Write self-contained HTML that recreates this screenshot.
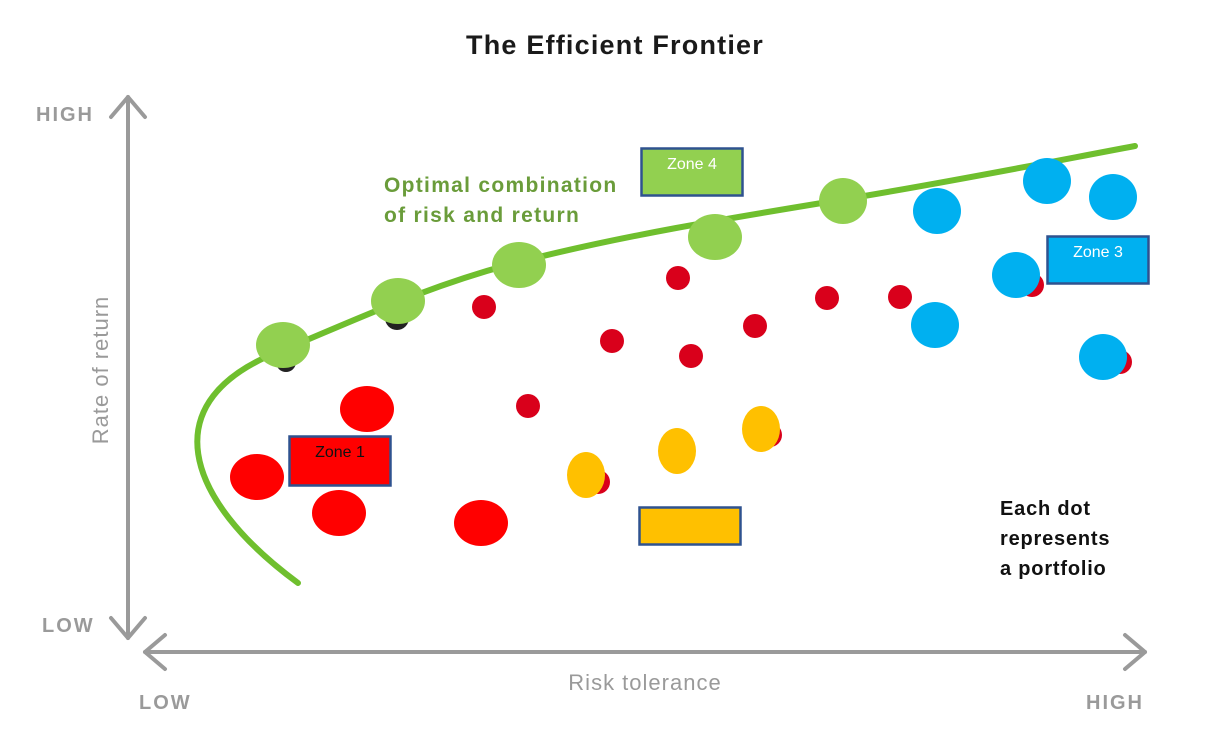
<!DOCTYPE html>
<html><head><style>
html,body{margin:0;padding:0;background:#fff;}
svg{display:block;}
text{font-family:"Liberation Sans",sans-serif;}
</style></head><body>
<svg width="1210" height="750" viewBox="0 0 1210 750" xmlns="http://www.w3.org/2000/svg">
<rect width="1210" height="750" fill="#fff"/>
<text x="615" y="54" text-anchor="middle" font-size="27" font-weight="bold" fill="#1a1a1a" letter-spacing="1.2">The Efficient Frontier</text>
<!-- axes -->
<g stroke="#9a9a9a" stroke-width="4" fill="none" stroke-linecap="round" stroke-linejoin="round">
<line x1="128" y1="97" x2="128" y2="638"/>
<polyline points="111,117 128,97 145,117"/>
<polyline points="111,618 128,638 145,618"/>
<line x1="145" y1="652" x2="1145" y2="652"/>
<polyline points="165,635 145,652 165,669"/>
<polyline points="1125,635 1145,652 1125,669"/>
</g>
<g fill="#9a9a9a" font-weight="bold" font-size="20" letter-spacing="2">
<text x="36" y="121">HIGH</text>
<text x="42" y="632">LOW</text>
<text x="139" y="709">LOW</text>
<text x="1086" y="709">HIGH</text>
</g>
<g fill="#9a9a9a" font-size="22" letter-spacing="1">
<text x="645" y="690" text-anchor="middle">Risk tolerance</text>
<text transform="translate(108,370) rotate(-90)" text-anchor="middle">Rate of return</text>
</g>
<!-- frontier -->
<path d="M298,583 C185,500 150,400 283,350 C360,318 430,285 519,262 C620,236 730,218 840,200 C950,182 1050,162 1135,146" stroke="#6fbf2e" stroke-width="6" fill="none" stroke-linecap="round"/>
<text x="384" y="192" font-size="21" font-weight="bold" fill="#6a9c3a" letter-spacing="1.3">Optimal combination</text>
<text x="384" y="222" font-size="21" font-weight="bold" fill="#6a9c3a" letter-spacing="1.3">of risk and return</text>
<!-- small red dots -->
<g fill="#d9001b">
<circle cx="484" cy="307" r="12"/><circle cx="678" cy="278" r="12"/><circle cx="612" cy="341" r="12"/>
<circle cx="691" cy="356" r="12"/><circle cx="755" cy="326" r="12"/><circle cx="827" cy="298" r="12"/>
<circle cx="900" cy="297" r="12"/><circle cx="528" cy="406" r="12"/><circle cx="1032" cy="285" r="12"/>
<circle cx="1120" cy="362" r="12"/><circle cx="598" cy="482" r="12"/><circle cx="770" cy="435" r="12"/>
<circle cx="397" cy="318" r="12" fill="#222"/><circle cx="286" cy="362" r="10" fill="#222"/>
</g>
<!-- green -->
<g fill="#92d050">
<ellipse cx="283" cy="345" rx="27" ry="23"/><ellipse cx="398" cy="301" rx="27" ry="23"/>
<ellipse cx="519" cy="265" rx="27" ry="23"/><ellipse cx="715" cy="237" rx="27" ry="23"/>
<ellipse cx="843" cy="201" rx="24" ry="23"/>
</g>
<!-- blue -->
<g fill="#00b0f0">
<ellipse cx="937" cy="211" rx="24" ry="23"/><ellipse cx="1047" cy="181" rx="24" ry="23"/>
<ellipse cx="1113" cy="197" rx="24" ry="23"/><ellipse cx="1016" cy="275" rx="24" ry="23"/>
<ellipse cx="935" cy="325" rx="24" ry="23"/><ellipse cx="1103" cy="357" rx="24" ry="23"/>
</g>
<!-- big red -->
<g fill="#ff0000">
<ellipse cx="367" cy="409" rx="27" ry="23"/><ellipse cx="257" cy="477" rx="27" ry="23"/>
<ellipse cx="339" cy="513" rx="27" ry="23"/><ellipse cx="481" cy="523" rx="27" ry="23"/>
</g>
<!-- orange -->
<g fill="#ffc000">
<ellipse cx="586" cy="475" rx="19" ry="23"/><ellipse cx="677" cy="451" rx="19" ry="23"/>
<ellipse cx="761" cy="429" rx="19" ry="23"/>
</g>
<!-- zone boxes -->
<g stroke="#2f528f" stroke-width="2.5">
<rect x="289.5" y="436.5" width="101" height="49" fill="#ff0000"/>
<rect x="641.5" y="148.5" width="101" height="47" fill="#92d050"/>
<rect x="1047.5" y="236.5" width="101" height="47" fill="#00b0f0"/>
<rect x="639.5" y="507.5" width="101" height="37" fill="#ffc000"/>
</g>
<g font-size="16" text-anchor="middle">
<text x="340" y="457" fill="#111">Zone 1</text>
<text x="692" y="169" fill="#fff">Zone 4</text>
<text x="1098" y="257" fill="#fff">Zone 3</text>
</g>
<g font-size="20" font-weight="bold" fill="#111" letter-spacing="0.8">
<text x="1000" y="515">Each dot</text>
<text x="1000" y="545">represents</text>
<text x="1000" y="575">a portfolio</text>
</g>
</svg>
</body></html>
